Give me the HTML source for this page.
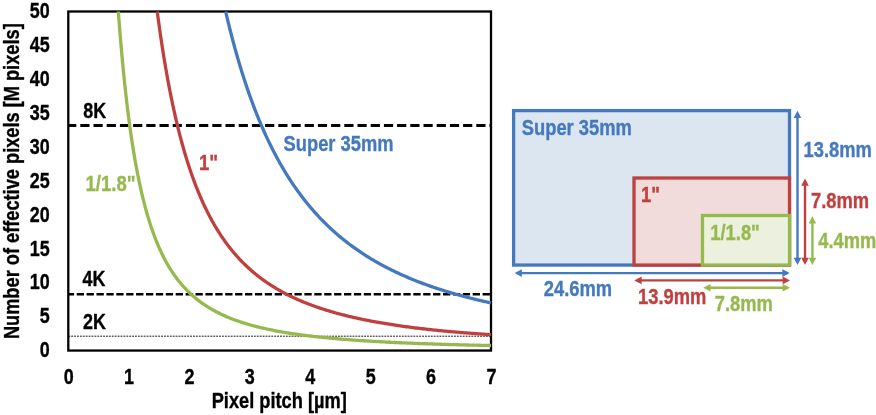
<!DOCTYPE html><html><head><meta charset="utf-8"><title>Pixel pitch chart</title>
<style>html,body{margin:0;padding:0;background:#fff}body{width:876px;height:415px;overflow:hidden}svg{display:block}text{stroke-width:0.35px;stroke-linejoin:round;font-family:"Liberation Sans",sans-serif;font-weight:bold}</style></head><body>
<svg width="876" height="415" viewBox="0 0 876 415">
<rect width="876" height="415" fill="#fff"/>
<rect x="68.30" y="11.50" width="422.70" height="339.05" fill="none" stroke="#000" stroke-width="2.3"/>
<line x1="68.30" x2="491.00" y1="125.45" y2="125.45" stroke="#000" stroke-width="3" stroke-dasharray="9.2 4" stroke-dashoffset="1.2"/>
<line x1="68.30" x2="491.00" y1="294.30" y2="294.30" stroke="#000" stroke-width="2.4" stroke-dasharray="7.3 2.6" stroke-dashoffset="1.5"/>
<line x1="68.30" x2="491.00" y1="336.20" y2="336.20" stroke="#000" stroke-width="0.9" stroke-dasharray="1.9 1"/>
<clipPath id="c"><rect x="68.30" y="10.70" width="423.60" height="339.85"/></clipPath>
<g clip-path="url(#c)">
<path d="M225.65 11.49 L225.68 11.61 L225.73 11.86 L225.81 12.21 L225.91 12.63 L226.03 13.12 L226.15 13.66 L226.30 14.27 L226.45 14.93 L226.62 15.63 L226.80 16.39 L226.98 17.18 L227.18 18.02 L227.40 18.90 L227.62 19.82 L227.84 20.77 L228.08 21.75 L228.33 22.77 L228.59 23.82 L228.86 24.91 L229.13 26.02 L229.41 27.16 L229.70 28.32 L230.00 29.51 L230.31 30.73 L230.63 31.97 L230.95 33.23 L231.28 34.51 L231.61 35.82 L231.96 37.14 L232.31 38.48 L232.67 39.84 L233.04 41.22 L233.41 42.62 L233.79 44.03 L234.18 45.46 L234.57 46.90 L234.97 48.35 L235.38 49.82 L235.79 51.30 L236.21 52.80 L236.63 54.30 L237.07 55.81 L237.50 57.34 L237.95 58.87 L238.40 60.41 L238.85 61.96 L239.32 63.52 L239.79 65.09 L240.26 66.66 L240.74 68.24 L241.23 69.82 L241.72 71.41 L242.21 73.00 L242.72 74.60 L243.23 76.20 L243.74 77.81 L244.26 79.42 L244.79 81.03 L245.32 82.64 L245.85 84.26 L246.39 85.87 L246.94 87.49 L247.49 89.11 L248.05 90.73 L248.61 92.35 L249.18 93.97 L249.75 95.58 L250.33 97.20 L250.92 98.82 L251.50 100.43 L252.10 102.04 L252.70 103.65 L253.30 105.26 L253.91 106.87 L254.52 108.47 L255.14 110.07 L255.76 111.67 L256.39 113.26 L257.02 114.85 L257.66 116.43 L258.31 118.01 L258.95 119.59 L259.61 121.16 L260.26 122.73 L260.92 124.29 L261.59 125.85 L262.26 127.40 L262.94 128.94 L263.62 130.48 L264.30 132.02 L264.99 133.55 L265.69 135.07 L266.38 136.59 L267.09 138.10 L267.80 139.60 L268.51 141.10 L269.22 142.59 L269.95 144.07 L270.67 145.55 L271.40 147.02 L272.13 148.48 L272.87 149.94 L273.62 151.39 L274.36 152.83 L275.12 154.26 L275.87 155.69 L276.63 157.11 L277.40 158.52 L278.16 159.92 L278.94 161.32 L279.72 162.71 L280.50 164.09 L281.28 165.46 L282.07 166.82 L282.87 168.18 L283.66 169.53 L284.47 170.87 L285.27 172.20 L286.08 173.52 L286.90 174.84 L287.72 176.15 L288.54 177.45 L289.37 178.74 L290.20 180.02 L291.03 181.30 L291.87 182.56 L292.71 183.82 L293.56 185.07 L294.41 186.31 L295.27 187.55 L296.13 188.77 L296.99 189.99 L297.86 191.20 L298.73 192.40 L299.60 193.59 L300.48 194.78 L301.36 195.95 L302.25 197.12 L303.14 198.28 L304.03 199.43 L304.93 200.57 L305.83 201.71 L306.74 202.84 L307.65 203.95 L308.56 205.06 L309.48 206.17 L310.40 207.26 L311.32 208.35 L312.25 209.43 L313.18 210.50 L314.12 211.56 L315.06 212.61 L316.00 213.66 L316.94 214.70 L317.90 215.73 L318.85 216.75 L319.81 217.77 L320.77 218.77 L321.73 219.77 L322.70 220.77 L323.67 221.75 L324.65 222.73 L325.63 223.70 L326.61 224.66 L327.60 225.61 L328.59 226.56 L329.58 227.50 L330.58 228.43 L331.58 229.36 L332.59 230.27 L333.60 231.18 L334.61 232.09 L335.62 232.98 L336.64 233.87 L337.67 234.75 L338.69 235.63 L339.72 236.50 L340.75 237.36 L341.79 238.21 L342.83 239.06 L343.87 239.90 L344.92 240.73 L345.97 241.56 L347.02 242.38 L348.08 243.19 L349.14 244.00 L350.21 244.80 L351.27 245.59 L352.34 246.38 L353.42 247.16 L354.50 247.93 L355.58 248.70 L356.66 249.46 L357.75 250.22 L358.84 250.96 L359.94 251.71 L361.03 252.44 L362.13 253.17 L363.24 253.90 L364.35 254.62 L365.46 255.33 L366.57 256.04 L367.69 256.74 L368.81 257.43 L369.94 258.12 L371.06 258.81 L372.20 259.48 L373.33 260.16 L374.47 260.82 L375.61 261.48 L376.75 262.14 L377.90 262.79 L379.05 263.43 L380.20 264.07 L381.36 264.71 L382.52 265.34 L383.69 265.96 L384.85 266.58 L386.02 267.19 L387.20 267.80 L388.37 268.40 L389.55 269.00 L390.74 269.59 L391.92 270.18 L393.11 270.76 L394.30 271.34 L395.50 271.91 L396.70 272.48 L397.90 273.04 L399.10 273.60 L400.31 274.15 L401.52 274.70 L402.74 275.25 L403.96 275.79 L405.18 276.32 L406.40 276.85 L407.63 277.38 L408.86 277.90 L410.09 278.42 L411.33 278.93 L412.57 279.44 L413.81 279.94 L415.06 280.44 L416.30 280.94 L417.56 281.43 L418.81 281.92 L420.07 282.40 L421.33 282.88 L422.59 283.36 L423.86 283.83 L425.13 284.29 L426.40 284.76 L427.68 285.22 L428.96 285.67 L430.24 286.12 L431.53 286.57 L432.81 287.02 L434.11 287.46 L435.40 287.89 L436.70 288.32 L438.00 288.75 L439.30 289.18 L440.61 289.60 L441.92 290.02 L443.23 290.43 L444.54 290.84 L445.86 291.25 L447.18 291.66 L448.51 292.06 L449.83 292.45 L451.16 292.85 L452.50 293.24 L453.83 293.63 L455.17 294.01 L456.51 294.39 L457.86 294.77 L459.21 295.14 L460.56 295.51 L461.91 295.88 L463.27 296.25 L464.63 296.61 L465.99 296.97 L467.35 297.32 L468.72 297.67 L470.09 298.02 L471.47 298.37 L472.84 298.71 L474.22 299.05 L475.60 299.39 L476.99 299.73 L478.38 300.06 L479.77 300.39 L481.16 300.71 L482.56 301.04 L483.96 301.36 L485.36 301.68 L486.77 301.99 L488.18 302.30 L489.59 302.61 L491.00 302.92" fill="none" stroke="#4579BE" stroke-width="3.3" stroke-linejoin="round"/>
<path d="M157.22 11.50 L157.26 11.77 L157.33 12.34 L157.43 13.10 L157.55 14.03 L157.70 15.11 L157.86 16.31 L158.04 17.64 L158.23 19.08 L158.44 20.62 L158.67 22.26 L158.90 23.98 L159.16 25.79 L159.42 27.67 L159.70 29.62 L159.99 31.64 L160.29 33.73 L160.60 35.87 L160.92 38.06 L161.26 40.31 L161.60 42.60 L161.96 44.94 L162.33 47.31 L162.70 49.72 L163.09 52.17 L163.48 54.65 L163.89 57.15 L164.30 59.68 L164.73 62.24 L165.16 64.81 L165.61 67.41 L166.06 70.02 L166.52 72.64 L166.99 75.28 L167.46 77.92 L167.95 80.58 L168.44 83.24 L168.95 85.90 L169.46 88.57 L169.98 91.24 L170.51 93.91 L171.04 96.58 L171.58 99.24 L172.14 101.90 L172.69 104.56 L173.26 107.21 L173.84 109.85 L174.42 112.48 L175.01 115.10 L175.60 117.71 L176.21 120.31 L176.82 122.89 L177.44 125.47 L178.06 128.02 L178.69 130.57 L179.33 133.09 L179.98 135.61 L180.63 138.10 L181.30 140.58 L181.96 143.04 L182.64 145.48 L183.32 147.90 L184.01 150.30 L184.70 152.68 L185.40 155.05 L186.11 157.39 L186.82 159.71 L187.54 162.01 L188.27 164.29 L189.01 166.55 L189.75 168.78 L190.49 171.00 L191.25 173.19 L192.01 175.36 L192.77 177.51 L193.54 179.63 L194.32 181.74 L195.10 183.82 L195.89 185.88 L196.69 187.91 L197.49 189.93 L198.30 191.92 L199.12 193.89 L199.94 195.83 L200.76 197.76 L201.60 199.66 L202.43 201.54 L203.28 203.40 L204.13 205.23 L204.98 207.04 L205.85 208.84 L206.71 210.61 L207.59 212.35 L208.46 214.08 L209.35 215.79 L210.24 217.47 L211.13 219.14 L212.04 220.78 L212.94 222.40 L213.86 224.00 L214.77 225.58 L215.70 227.14 L216.63 228.68 L217.56 230.20 L218.50 231.71 L219.45 233.19 L220.40 234.65 L221.35 236.09 L222.32 237.52 L223.28 238.92 L224.25 240.31 L225.23 241.68 L226.22 243.03 L227.20 244.36 L228.20 245.68 L229.20 246.97 L230.20 248.25 L231.21 249.52 L232.22 250.76 L233.24 251.99 L234.27 253.20 L235.30 254.40 L236.33 255.58 L237.37 256.74 L238.42 257.89 L239.47 259.02 L240.52 260.14 L241.58 261.24 L242.65 262.33 L243.72 263.40 L244.79 264.46 L245.88 265.50 L246.96 266.53 L248.05 267.55 L249.15 268.55 L250.25 269.54 L251.35 270.51 L252.46 271.47 L253.58 272.42 L254.69 273.35 L255.82 274.28 L256.95 275.18 L258.08 276.08 L259.22 276.97 L260.37 277.84 L261.51 278.70 L262.67 279.55 L263.82 280.38 L264.99 281.21 L266.15 282.02 L267.33 282.83 L268.50 283.62 L269.69 284.40 L270.87 285.17 L272.06 285.93 L273.26 286.68 L274.46 287.42 L275.66 288.15 L276.87 288.87 L278.09 289.58 L279.30 290.28 L280.53 290.97 L281.76 291.65 L282.99 292.33 L284.22 292.99 L285.47 293.64 L286.71 294.29 L287.96 294.92 L289.22 295.55 L290.48 296.17 L291.74 296.78 L293.01 297.39 L294.28 297.98 L295.56 298.57 L296.84 299.15 L298.13 299.72 L299.42 300.28 L300.71 300.84 L302.01 301.38 L303.31 301.93 L304.62 302.46 L305.93 302.99 L307.25 303.51 L308.57 304.02 L309.90 304.53 L311.23 305.02 L312.56 305.52 L313.90 306.00 L315.24 306.48 L316.59 306.96 L317.94 307.42 L319.30 307.88 L320.66 308.34 L322.02 308.79 L323.39 309.23 L324.76 309.67 L326.14 310.10 L327.52 310.53 L328.90 310.95 L330.29 311.36 L331.69 311.77 L333.09 312.17 L334.49 312.57 L335.89 312.97 L337.30 313.36 L338.72 313.74 L340.14 314.12 L341.56 314.49 L342.99 314.86 L344.42 315.22 L345.85 315.58 L347.29 315.94 L348.74 316.29 L350.18 316.63 L351.63 316.97 L353.09 317.31 L354.55 317.64 L356.01 317.97 L357.48 318.30 L358.95 318.62 L360.43 318.93 L361.91 319.24 L363.39 319.55 L364.88 319.85 L366.37 320.15 L367.87 320.45 L369.37 320.74 L370.87 321.03 L372.38 321.32 L373.89 321.60 L375.41 321.88 L376.93 322.15 L378.45 322.42 L379.98 322.69 L381.51 322.95 L383.05 323.21 L384.59 323.47 L386.13 323.72 L387.68 323.97 L389.23 324.22 L390.78 324.47 L392.34 324.71 L393.91 324.95 L395.47 325.18 L397.04 325.41 L398.62 325.64 L400.20 325.87 L401.78 326.09 L403.36 326.32 L404.95 326.53 L406.55 326.75 L408.15 326.96 L409.75 327.17 L411.35 327.38 L412.96 327.58 L414.57 327.79 L416.19 327.99 L417.81 328.18 L419.44 328.38 L421.06 328.57 L422.70 328.76 L424.33 328.95 L425.97 329.13 L427.61 329.32 L429.26 329.50 L430.91 329.67 L432.56 329.85 L434.22 330.02 L435.88 330.19 L437.55 330.36 L439.22 330.53 L440.89 330.70 L442.57 330.86 L444.25 331.02 L445.93 331.18 L447.62 331.33 L449.31 331.49 L451.01 331.64 L452.71 331.79 L454.41 331.94 L456.12 332.09 L457.83 332.23 L459.54 332.38 L461.26 332.52 L462.98 332.66 L464.70 332.79 L466.43 332.93 L468.16 333.06 L469.90 333.19 L471.63 333.32 L473.38 333.45 L475.12 333.58 L476.87 333.70 L478.63 333.83 L480.38 333.95 L482.14 334.07 L483.91 334.19 L485.68 334.31 L487.45 334.42 L489.22 334.53 L491.00 334.65" fill="none" stroke="#C0403F" stroke-width="3.3" stroke-linejoin="round"/>
<path d="M118.33 11.50 L118.37 12.05 L118.45 13.16 L118.56 14.66 L118.70 16.49 L118.86 18.60 L119.04 20.96 L119.24 23.53 L119.46 26.31 L119.69 29.25 L119.94 32.36 L120.21 35.61 L120.49 38.99 L120.79 42.49 L121.09 46.09 L121.42 49.78 L121.75 53.54 L122.10 57.38 L122.46 61.28 L122.84 65.23 L123.22 69.22 L123.62 73.25 L124.03 77.30 L124.45 81.37 L124.88 85.46 L125.32 89.56 L125.77 93.65 L126.24 97.75 L126.71 101.83 L127.20 105.90 L127.69 109.96 L128.19 113.99 L128.71 118.00 L129.23 121.98 L129.77 125.93 L130.31 129.85 L130.86 133.73 L131.42 137.57 L131.99 141.37 L132.57 145.13 L133.16 148.84 L133.76 152.51 L134.37 156.13 L134.98 159.70 L135.61 163.22 L136.24 166.69 L136.88 170.11 L137.53 173.48 L138.19 176.80 L138.85 180.06 L139.53 183.28 L140.21 186.44 L140.90 189.54 L141.60 192.60 L142.30 195.60 L143.02 198.55 L143.74 201.44 L144.47 204.29 L145.21 207.08 L145.95 209.82 L146.71 212.51 L147.47 215.15 L148.24 217.74 L149.01 220.28 L149.79 222.77 L150.58 225.21 L151.38 227.61 L152.19 229.96 L153.00 232.26 L153.82 234.51 L154.64 236.72 L155.48 238.89 L156.32 241.01 L157.17 243.09 L158.02 245.13 L158.88 247.13 L159.75 249.08 L160.63 251.00 L161.51 252.87 L162.40 254.71 L163.29 256.51 L164.20 258.27 L165.11 260.00 L166.02 261.69 L166.95 263.34 L167.87 264.96 L168.81 266.55 L169.75 268.10 L170.70 269.62 L171.66 271.11 L172.62 272.57 L173.59 274.00 L174.56 275.39 L175.54 276.76 L176.53 278.10 L177.52 279.42 L178.52 280.70 L179.53 281.96 L180.54 283.19 L181.56 284.40 L182.59 285.58 L183.62 286.74 L184.66 287.87 L185.70 288.98 L186.75 290.06 L187.81 291.13 L188.87 292.17 L189.93 293.19 L191.01 294.19 L192.09 295.17 L193.17 296.13 L194.27 297.07 L195.36 297.99 L196.47 298.89 L197.58 299.77 L198.69 300.63 L199.81 301.48 L200.94 302.31 L202.07 303.12 L203.21 303.92 L204.35 304.70 L205.50 305.47 L206.66 306.22 L207.82 306.95 L208.99 307.67 L210.16 308.38 L211.34 309.07 L212.52 309.75 L213.71 310.41 L214.91 311.06 L216.11 311.70 L217.31 312.33 L218.52 312.94 L219.74 313.54 L220.96 314.13 L222.19 314.71 L223.43 315.28 L224.67 315.84 L225.91 316.38 L227.16 316.92 L228.42 317.44 L229.68 317.96 L230.94 318.46 L232.21 318.96 L233.49 319.44 L234.77 319.92 L236.06 320.39 L237.35 320.85 L238.65 321.30 L239.96 321.74 L241.26 322.18 L242.58 322.60 L243.90 323.02 L245.22 323.43 L246.55 323.83 L247.89 324.23 L249.23 324.62 L250.57 325.00 L251.92 325.37 L253.28 325.74 L254.64 326.10 L256.00 326.45 L257.37 326.80 L258.75 327.14 L260.13 327.48 L261.52 327.81 L262.91 328.13 L264.30 328.45 L265.70 328.76 L267.11 329.07 L268.52 329.37 L269.94 329.66 L271.36 329.95 L272.79 330.24 L274.22 330.52 L275.65 330.80 L277.09 331.07 L278.54 331.33 L279.99 331.59 L281.45 331.85 L282.91 332.10 L284.37 332.35 L285.84 332.60 L287.32 332.84 L288.80 333.07 L290.28 333.31 L291.77 333.53 L293.26 333.76 L294.76 333.98 L296.27 334.20 L297.78 334.41 L299.29 334.62 L300.81 334.82 L302.33 335.03 L303.86 335.23 L305.39 335.42 L306.93 335.62 L308.47 335.81 L310.02 335.99 L311.57 336.18 L313.12 336.36 L314.69 336.54 L316.25 336.71 L317.82 336.88 L319.40 337.05 L320.97 337.22 L322.56 337.38 L324.15 337.55 L325.74 337.70 L327.34 337.86 L328.94 338.01 L330.55 338.17 L332.16 338.32 L333.78 338.46 L335.40 338.61 L337.02 338.75 L338.65 338.89 L340.29 339.03 L341.92 339.16 L343.57 339.30 L345.22 339.43 L346.87 339.56 L348.52 339.69 L350.19 339.81 L351.85 339.93 L353.52 340.06 L355.20 340.18 L356.88 340.29 L358.56 340.41 L360.25 340.53 L361.94 340.64 L363.64 340.75 L365.34 340.86 L367.04 340.97 L368.75 341.07 L370.47 341.18 L372.19 341.28 L373.91 341.38 L375.64 341.48 L377.37 341.58 L379.11 341.68 L380.85 341.77 L382.59 341.87 L384.34 341.96 L386.09 342.05 L387.85 342.14 L389.62 342.23 L391.38 342.32 L393.15 342.40 L394.93 342.49 L396.71 342.57 L398.49 342.65 L400.28 342.74 L402.07 342.82 L403.87 342.89 L405.67 342.97 L407.47 343.05 L409.28 343.12 L411.10 343.20 L412.91 343.27 L414.74 343.34 L416.56 343.42 L418.39 343.49 L420.23 343.55 L422.07 343.62 L423.91 343.69 L425.76 343.76 L427.61 343.82 L429.46 343.88 L431.32 343.95 L433.19 344.01 L435.05 344.07 L436.93 344.13 L438.80 344.19 L440.68 344.25 L442.57 344.31 L444.46 344.36 L446.35 344.42 L448.24 344.48 L450.15 344.53 L452.05 344.58 L453.96 344.64 L455.87 344.69 L457.79 344.74 L459.71 344.79 L461.64 344.84 L463.57 344.89 L465.50 344.94 L467.44 344.98 L469.38 345.03 L471.32 345.08 L473.27 345.12 L475.23 345.17 L477.18 345.21 L479.15 345.25 L481.11 345.30 L483.08 345.34 L485.06 345.38 L487.03 345.42 L489.01 345.46 L491.00 345.50" fill="none" stroke="#96B94E" stroke-width="3.3" stroke-linejoin="round"/>
</g>
<text transform="translate(49.70 357.25) scale(0.84 1)" font-size="21.35" fill="#000" stroke="#000" text-anchor="end">0</text>
<text transform="translate(49.70 323.34) scale(0.84 1)" font-size="21.35" fill="#000" stroke="#000" text-anchor="end">5</text>
<text transform="translate(49.70 289.44) scale(0.84 1)" font-size="21.35" fill="#000" stroke="#000" text-anchor="end">10</text>
<text transform="translate(49.70 255.53) scale(0.84 1)" font-size="21.35" fill="#000" stroke="#000" text-anchor="end">15</text>
<text transform="translate(49.70 221.63) scale(0.84 1)" font-size="21.35" fill="#000" stroke="#000" text-anchor="end">20</text>
<text transform="translate(49.70 187.72) scale(0.84 1)" font-size="21.35" fill="#000" stroke="#000" text-anchor="end">25</text>
<text transform="translate(49.70 153.82) scale(0.84 1)" font-size="21.35" fill="#000" stroke="#000" text-anchor="end">30</text>
<text transform="translate(49.70 119.92) scale(0.84 1)" font-size="21.35" fill="#000" stroke="#000" text-anchor="end">35</text>
<text transform="translate(49.70 86.01) scale(0.84 1)" font-size="21.35" fill="#000" stroke="#000" text-anchor="end">40</text>
<text transform="translate(49.70 52.10) scale(0.84 1)" font-size="21.35" fill="#000" stroke="#000" text-anchor="end">45</text>
<text transform="translate(49.70 18.20) scale(0.84 1)" font-size="21.35" fill="#000" stroke="#000" text-anchor="end">50</text>
<text transform="translate(68.70 383.90) scale(0.84 1)" font-size="21.35" fill="#000" stroke="#000" text-anchor="middle">0</text>
<text transform="translate(129.09 383.90) scale(0.84 1)" font-size="21.35" fill="#000" stroke="#000" text-anchor="middle">1</text>
<text transform="translate(189.47 383.90) scale(0.84 1)" font-size="21.35" fill="#000" stroke="#000" text-anchor="middle">2</text>
<text transform="translate(249.86 383.90) scale(0.84 1)" font-size="21.35" fill="#000" stroke="#000" text-anchor="middle">3</text>
<text transform="translate(310.24 383.90) scale(0.84 1)" font-size="21.35" fill="#000" stroke="#000" text-anchor="middle">4</text>
<text transform="translate(370.63 383.90) scale(0.84 1)" font-size="21.35" fill="#000" stroke="#000" text-anchor="middle">5</text>
<text transform="translate(431.01 383.90) scale(0.84 1)" font-size="21.35" fill="#000" stroke="#000" text-anchor="middle">6</text>
<text transform="translate(491.40 383.90) scale(0.84 1)" font-size="21.35" fill="#000" stroke="#000" text-anchor="middle">7</text>
<text transform="translate(279.20 407.80) scale(0.854 1)" font-size="21.35" fill="#000" stroke="#000" text-anchor="middle">Pixel pitch [µm]</text>
<text transform="translate(18.50 181.20) rotate(-90) scale(0.834 1)" font-size="21.85" fill="#000" stroke="#000" text-anchor="middle">Number of effective pixels [M pixels]</text>
<text transform="translate(83.30 117.80) scale(0.84 1)" font-size="21.35" fill="#000" stroke="#000" text-anchor="start">8K</text>
<text transform="translate(82.60 286.00) scale(0.84 1)" font-size="21.35" fill="#000" stroke="#000" text-anchor="start">4K</text>
<text transform="translate(83.00 329.00) scale(0.84 1)" font-size="21.35" fill="#000" stroke="#000" text-anchor="start">2K</text>
<text transform="translate(85.50 190.50) scale(0.84 1)" font-size="22.15" fill="#96B94E" stroke="#96B94E" stroke-width="0.22" text-anchor="start">1/1.8"</text>
<text transform="translate(199.00 170.40) scale(0.84 1)" font-size="22.15" fill="#C0403F" stroke="#C0403F" stroke-width="0.22" text-anchor="start">1"</text>
<text transform="translate(283.50 150.80) scale(0.84 1)" font-size="21.85" fill="#4579BE" stroke="#4579BE" stroke-width="0.22" text-anchor="start">Super 35mm</text>
<rect x="513.60" y="110.60" width="275.90" height="154.45" fill="#DCE6F1" stroke="#4579BE" stroke-width="3.3"/>
<rect x="634.00" y="178.00" width="155.50" height="87.05" fill="#F2DCDB" stroke="#C0403F" stroke-width="3.3"/>
<rect x="702.50" y="215.50" width="87.00" height="49.55" fill="#EBF1DE" stroke="#96B94E" stroke-width="3.3"/>
<text transform="translate(521.80 134.80) scale(0.84 1)" font-size="21.85" fill="#4579BE" stroke="#4579BE" stroke-width="0.22" text-anchor="start">Super 35mm</text>
<text transform="translate(641.00 201.60) scale(0.84 1)" font-size="21.85" fill="#C0403F" stroke="#C0403F" stroke-width="0.22" text-anchor="start">1"</text>
<text transform="translate(710.30 239.60) scale(0.84 1)" font-size="21.85" fill="#96B94E" stroke="#96B94E" stroke-width="0.22" text-anchor="start">1/1.8"</text>
<line x1="797.50" x2="797.50" y1="117.60" y2="258.20" stroke="#4579BE" stroke-width="2.4"/><polygon points="797.50,110.80 793.70,118.10 801.30,118.10" fill="#4579BE"/><polygon points="797.50,265.00 793.70,257.70 801.30,257.70" fill="#4579BE"/>
<line x1="805.00" x2="805.00" y1="185.20" y2="258.20" stroke="#C0403F" stroke-width="2.4"/><polygon points="805.00,178.40 801.20,185.70 808.80,185.70" fill="#C0403F"/><polygon points="805.00,265.00 801.20,257.70 808.80,257.70" fill="#C0403F"/>
<line x1="812.40" x2="812.40" y1="223.00" y2="258.20" stroke="#96B94E" stroke-width="2.4"/><polygon points="812.40,216.20 808.60,223.50 816.20,223.50" fill="#96B94E"/><polygon points="812.40,265.00 808.60,257.70 816.20,257.70" fill="#96B94E"/>
<line y1="273.10" y2="273.10" x1="521.40" x2="782.90" stroke="#4579BE" stroke-width="2.4"/><polygon points="514.60,273.10 521.90,269.30 521.90,276.90" fill="#4579BE"/><polygon points="789.70,273.10 782.40,269.30 782.40,276.90" fill="#4579BE"/>
<line y1="280.40" y2="280.40" x1="641.10" x2="783.20" stroke="#C0403F" stroke-width="2.4"/><polygon points="634.30,280.40 641.60,276.60 641.60,284.20" fill="#C0403F"/><polygon points="790.00,280.40 782.70,276.60 782.70,284.20" fill="#C0403F"/>
<line y1="287.70" y2="287.70" x1="710.00" x2="783.20" stroke="#96B94E" stroke-width="2.4"/><polygon points="703.20,287.70 710.50,283.90 710.50,291.50" fill="#96B94E"/><polygon points="790.00,287.70 782.70,283.90 782.70,291.50" fill="#96B94E"/>
<text transform="translate(803.50 157.20) scale(0.84 1)" font-size="21.85" fill="#4579BE" stroke="#4579BE" stroke-width="0.22" text-anchor="start">13.8mm</text>
<text transform="translate(811.00 208.00) scale(0.84 1)" font-size="21.85" fill="#C0403F" stroke="#C0403F" stroke-width="0.22" text-anchor="start">7.8mm</text>
<text transform="translate(818.30 248.00) scale(0.84 1)" font-size="21.85" fill="#96B94E" stroke="#96B94E" stroke-width="0.22" text-anchor="start">4.4mm</text>
<text transform="translate(543.80 296.20) scale(0.84 1)" font-size="21.85" fill="#4579BE" stroke="#4579BE" stroke-width="0.22" text-anchor="start">24.6mm</text>
<text transform="translate(638.00 304.20) scale(0.84 1)" font-size="21.85" fill="#C0403F" stroke="#C0403F" stroke-width="0.22" text-anchor="start">13.9mm</text>
<text transform="translate(714.80 311.40) scale(0.84 1)" font-size="21.85" fill="#96B94E" stroke="#96B94E" stroke-width="0.22" text-anchor="start">7.8mm</text>
</svg></body></html>
